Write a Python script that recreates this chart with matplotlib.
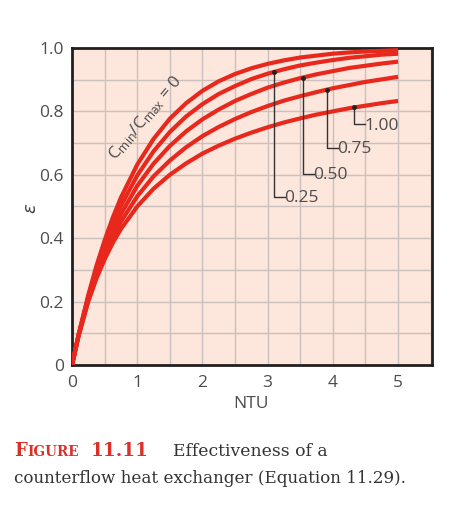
import numpy as np
import matplotlib
matplotlib.use("Agg")
import matplotlib.pyplot as plt

# ---- data ----
ntu = [0, 0.1, 0.25, 0.375, 0.5, 0.625, 0.75, 1.0, 1.25, 1.5, 1.75, 2.0, 2.25, 2.5, 2.75,
       3.0, 3.25, 3.5, 3.75, 4.0, 4.25, 4.5, 4.75, 5.0]
eff_c000 = [0, 0.095, 0.221, 0.313, 0.393, 0.465, 0.528, 0.632, 0.713, 0.777, 0.826, 0.865,
            0.895, 0.918, 0.936, 0.950, 0.961, 0.970, 0.976, 0.982, 0.986, 0.989, 0.991, 0.993]
eff_c025 = [0, 0.094, 0.216, 0.302, 0.378, 0.444, 0.502, 0.598, 0.674, 0.735, 0.784, 0.823,
            0.855, 0.880, 0.902, 0.919, 0.933, 0.945, 0.954, 0.962, 0.969, 0.974, 0.979, 0.982]
eff_c050 = [0, 0.093, 0.210, 0.292, 0.362, 0.423, 0.476, 0.565, 0.635, 0.691, 0.737, 0.775,
            0.806, 0.833, 0.855, 0.875, 0.891, 0.905, 0.917, 0.927, 0.937, 0.944, 0.951, 0.957]
eff_c075 = [0, 0.092, 0.205, 0.282, 0.348, 0.404, 0.452, 0.532, 0.595, 0.645, 0.687, 0.722,
            0.751, 0.776, 0.798, 0.817, 0.834, 0.848, 0.861, 0.873, 0.883, 0.893, 0.901, 0.909]
eff_c100 = [0, 0.091, 0.200, 0.273, 0.333, 0.385, 0.429, 0.500, 0.556, 0.600, 0.636, 0.667,
            0.692, 0.714, 0.733, 0.750, 0.765, 0.778, 0.790, 0.800, 0.810, 0.818, 0.826, 0.833]
curves = [eff_c000, eff_c025, eff_c050, eff_c075, eff_c100]

label_texts = ["0.25", "0.50", "0.75", "1.00"]
label_ntu = [3.1, 3.54, 3.91, 4.33]
label_eff = [0.531, 0.602, 0.684, 0.759]
labelled_curves = [eff_c025, eff_c050, eff_c075, eff_c100]

x_ticks = [0, 1, 2, 3, 4, 5]
y_ticks = [0, 0.2, 0.4, 0.6, 0.8, 1.0]
y_ticklabels = ["0", "0.2", "0.4", "0.6", "0.8", "1.0"]

# ---- figure ----
W, H = 456, 507
fig = plt.figure(figsize=(W / 100, H / 100), dpi=100)
fig.patch.set_facecolor("white")
ax = fig.add_axes([72 / W, 1 - 365 / H, 360 / W, 317 / H])
ax.set_facecolor("#fde6dc")
ax.set_xlim(0, 5.52)
ax.set_ylim(0, 1.0)

ax.set_xticks(x_ticks)
ax.set_xticklabels([str(t) for t in x_ticks])
ax.set_yticks(y_ticks)
ax.set_yticklabels(y_ticklabels)
ax.set_xticks(np.arange(0.5, 5.51, 1.0), minor=True)
ax.set_yticks(np.arange(0.1, 1.0, 0.2), minor=True)
ax.grid(True, which="both", color="#cac1be", lw=1.0)
ax.set_axisbelow(True)

ax.tick_params(which="both", length=0)
ax.tick_params(axis="x", pad=7, labelsize=12.5, labelcolor="#4d4d4d")
ax.tick_params(axis="y", pad=6, labelsize=12.5, labelcolor="#4d4d4d")
for lab in ax.get_xticklabels() + ax.get_yticklabels():
    lab.set_family("Open Sans")

for sp in ax.spines.values():
    sp.set_linewidth(2.0)
    sp.set_color("#231f1f")

red = "#e8281c"
for c in curves:
    ax.plot(ntu, c, color=red, lw=3.0, solid_capstyle="butt", solid_joinstyle="round", zorder=3)

# leader lines
for t, xn, ye, cv in zip(label_texts, label_ntu, label_eff, labelled_curves):
    yc = np.interp(xn, ntu, cv)
    ax.plot([xn, xn, xn + 0.17], [yc, ye, ye], color="#333333", lw=1.0, zorder=4)
    ax.plot([xn], [yc], "o", color="#222222", ms=2.5, zorder=5)
    ax.text(xn + 0.16, ye - 0.004, t, ha="left", va="center", fontsize=12.5,
            color="#4d4d4d", family="Open Sans", zorder=5)

ax.text(1.13, 0.78, r"$\mathregular{C_{min}/C_{max}}$ = 0", rotation=50,
        ha="center", va="center", fontsize=12.3, color="#4d4d4d",
        family="Open Sans", rotation_mode="anchor")

fig.text(251 / W, 1 - 404 / H, "NTU", ha="center", va="center",
         fontsize=12.5, color="#4d4d4d", family="Open Sans")
fig.text(31 / W, 1 - 208 / H, r"$\varepsilon$", ha="center", va="center",
         fontsize=13, color="#444444", rotation=90)

# caption
fig.canvas.draw()
r = fig.canvas.get_renderer()
cap_red = "#d9302a"
serif = "DejaVu Serif"
x = 14
for txt, sz in [("F", 13), ("IGURE", 9.8)]:
    t = fig.text(x / W, 1 - 456 / H, txt, fontsize=sz, color=cap_red, weight="bold",
                 family=serif, ha="left", va="baseline")
    x += t.get_window_extent(renderer=r).width + 0.5
fig.text(91 / W, 1 - 456 / H, "11.11", fontsize=13.3, color=cap_red, weight="bold",
         family=serif, ha="left", va="baseline")
fig.text(173 / W, 1 - 456 / H, "Effectiveness of a", fontsize=12.4, color="#333333",
         family=serif, ha="left", va="baseline")
fig.text(14 / W, 1 - 483 / H, "counterflow heat exchanger (Equation 11.29).",
         fontsize=12.1, color="#333333", family=serif, ha="left", va="baseline")

fig.savefig("out.png", dpi=100)
